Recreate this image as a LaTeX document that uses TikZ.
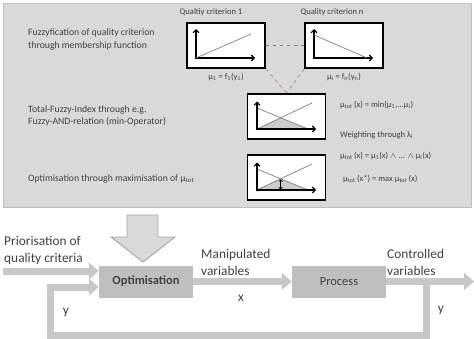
\documentclass[tikz,border=0pt]{standalone}
\usepackage{fontspec}
\setmainfont{Carlito}
\usetikzlibrary{arrows.meta,positioning,calc}
\definecolor{panelfill}{RGB}{217,217,217}
\definecolor{panelline}{RGB}{190,190,190}
\definecolor{blockfill}{RGB}{191,191,191}
\definecolor{bandgray}{RGB}{200,200,200}
\definecolor{txtgray}{RGB}{64,64,64}
\definecolor{linkred}{RGB}{190,140,140}
\tikzset{
  plotbox/.style={
    rectangle, draw=black, line width=1.5pt, fill=white,
    minimum width=2.34cm, minimum height=1.35cm, inner sep=0pt
  },
  plotaxis/.style={{Straight Barb[length=2.5pt,width=5pt]}-{Straight Barb[length=2.5pt,width=5pt]},
    line width=1pt, black},
  plotline/.style={gray, line width=0.6pt},
  minarea/.style={fill=gray!40},
  paneltxt/.style={
    font=\fontsize{8.3}{10.5}\selectfont, text=txtgray,
    align=left, inner sep=0pt
  },
  formtxt/.style={font=\fontsize{7.3}{9}\selectfont, text=txtgray, inner sep=0pt},
  blockbox/.style={
    rectangle, fill=blockfill, minimum width=2.82cm, minimum height=0.96cm,
    font=\fontsize{10.6}{12}\selectfont\bfseries, text=txtgray
  },
  flowtxt/.style={
    font=\fontsize{11.4}{14.5}\selectfont, text=txtgray,
    align=left, inner sep=0pt
  },
  flowband/.style={draw=bandgray, line width=0.21cm,
    -{Triangle[length=0.3cm,width=0.5cm]}}
}

\begin{document}
\begin{tikzpicture}[x=0.03cm, y=-0.03cm]
  \useasboundingbox (0,0) rectangle (474,339);

  % Fuzzy panel
  \draw[panelline, fill=panelfill] (3,3) rectangle (471,207);

  % Criteria boxes
  \node[plotbox] (crit1) at (226,45.5) {};
  \node[plotbox] (critn) at (344,45.5) {};
  \node[formtxt] (tit1) at (211,12) {Qualtiy criterion 1};
  \node[formtxt] (titn) at (332,12) {Quality criterion n};
  \node[formtxt, below=0.13cm of crit1] (fun1)
    {μ\textsubscript{1} = f\textsubscript{1}(y\textsubscript{1})};
  \node[formtxt, below=0.13cm of critn] (funn)
    {μ\textsubscript{i} = f\textsubscript{n}(y\textsubscript{n})};

  \begin{scope}[shift={(crit1.center)}]
    \draw[plotaxis] (-30,-16.5) -- (-30,12.5) -- (29,12.5);
    \draw[plotline] (-30,12.5) -- (25,-11.5);
  \end{scope}
  \begin{scope}[shift={(critn.center)}]
    \draw[plotaxis] (-30,-16.5) -- (-30,12.5) -- (29,12.5);
    \draw[plotline] (-30,-10.5) -- (23,12.5);
  \end{scope}

  % Total index and optimum boxes
  \node[plotbox] (tot) at (286.5,116.5) {};
  \node[plotbox] (best) at (286.5,177.5) {};

  \begin{scope}[shift={(tot.center)}]
    \fill[minarea] (-29.5,12.5) -- (-5.8,1.3) -- (21.5,12.5) -- cycle;
    \draw[plotline] (-29.5,12.5) -- (25.5,-13.5);
    \draw[plotline] (-29.5,-8.5) -- (21.5,12.5);
    \draw[plotaxis] (-29.5,-15) -- (-29.5,12.5) -- (29.5,12.5);
  \end{scope}
  \begin{scope}[shift={(best.center)}]
    \fill[minarea] (-29.5,12.5) -- (-5.8,1.3) -- (21.5,12.5) -- cycle;
    \draw[plotline] (-29.5,12.5) -- (25.5,-13.5);
    \draw[plotline] (-29.5,-8.5) -- (21.5,12.5);
    \draw[{Straight Barb[length=1.5pt]}-{Straight Barb[length=1.5pt]}, line width=0.6pt]
      (-5.8,1.8) -- (-5.8,12);
    \draw[plotaxis] (-29.5,-15) -- (-29.5,12.5) -- (29.5,12.5);
  \end{scope}

  % Links between boxes
  \draw[dashed, gray, line width=0.7pt] (crit1.east) -- (critn.west);
  \draw[dashed, linkred, line width=0.7pt] (crit1.south east) -- (tot.north);
  \draw[dashed, linkred, line width=0.7pt] (critn.south west) -- (tot.north);

  % Panel texts
  \node[paneltxt, anchor=west] (fuzz) at (28,39.5)
    {Fuzzyfication of quality criterion\\through membership function};
  \node[paneltxt, anchor=west] (index) at (28,116)
    {Total-Fuzzy-Index through e.g.\\Fuzzy-AND-relation (min-Operator)};
  \node[paneltxt, anchor=west] (maxi) at (28,179)
    {Optimisation through maximisation of μ\textsubscript{tot}};

  \node[formtxt, anchor=west] (fmin) at (340,105)
    {μ\textsubscript{tot}\,(x) = min(μ\textsubscript{1},...μ\textsubscript{i})};
  \node[formtxt, anchor=west] (fweight) at (340,135)
    {Weighting through λ\textsubscript{i}};
  \node[formtxt, anchor=west] (fand) at (340,156)
    {μ\textsubscript{tot}\,(x) = μ\textsubscript{1}(x) $\wedge$ ... $\wedge$ μ\textsubscript{i}(x)};
  \node[formtxt, anchor=west] (fmax) at (343,179)
    {μ\textsubscript{tot}\,(x*) = max μ\textsubscript{tot}\,(x)};

  % Down arrow into the loop
  \draw[draw=gray!70, fill=panelfill, line width=0.8pt]
    (127,215) -- (158,215) -- (158,237) -- (175,237) -- (143,262)
    -- (111,237) -- (127,237) -- cycle;

  % Control loop
  \node[blockbox] (opt) at (146,281.5) {Optimisation};
  \node[blockbox, font=\fontsize{10.6}{12}\selectfont] (proc) at (339,281.5) {Process};

  \node[flowtxt, anchor=west] (prio) at (4,250.5)
    {Priorisation of\\quality criteria};
  \node[flowtxt, anchor=west] (manip) at (201,262)
    {Manipulated\\variables};
  \node[flowtxt, anchor=west] (ctrl) at (387,262)
    {Controlled\\variables};
  \node[flowtxt] (xlab) at (241,298) {x};
  \node[flowtxt] (ylab1) at (66,312) {y};
  \node[flowtxt] (ylab2) at (441,310) {y};

  \coordinate (inStart) at (3,271);
  \coordinate (outEnd) at (474,281.5);
  \coordinate (fbSplit) at (426,281.5);
  \coordinate (fbLeft) at (50,335);

  \draw[flowband] (inStart) -- (inStart -| opt.west);
  \draw[flowband] (opt.east) -- (proc.west);
  \draw[flowband] (proc.east) -- (outEnd);
  \draw[flowband] (fbSplit) |- (fbLeft) |- ($(opt.west)+(0,5.5)$);
\end{tikzpicture}
\end{document}
